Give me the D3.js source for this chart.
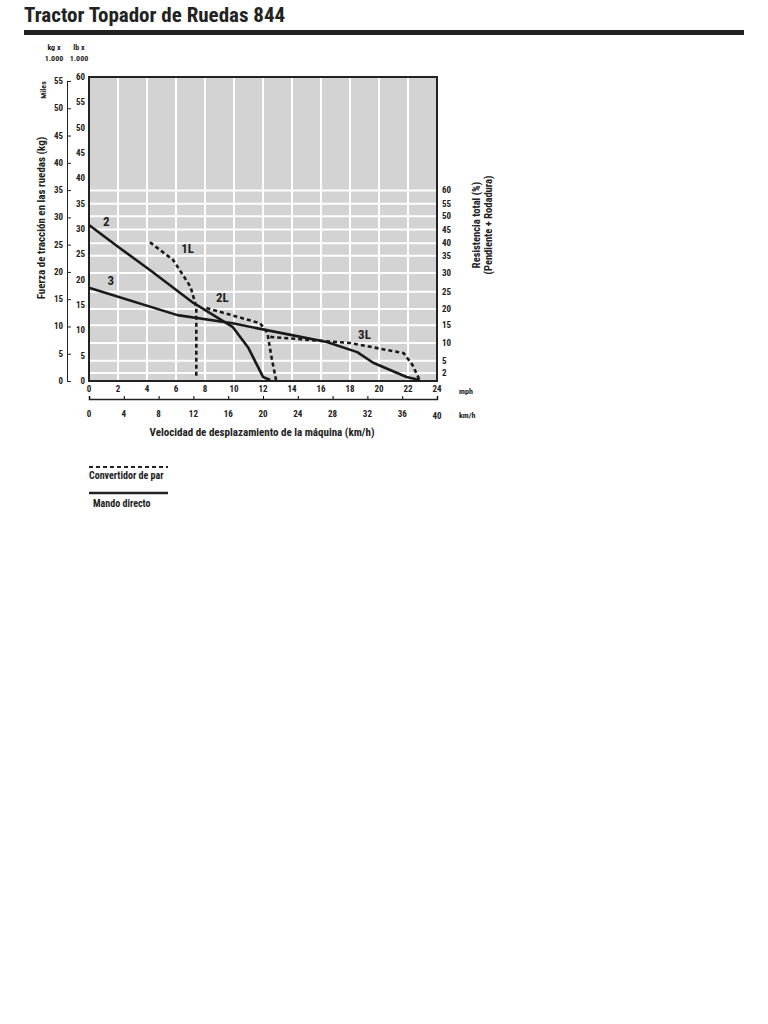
<!DOCTYPE html>
<html><head><meta charset="utf-8">
<script src="https://cdn.jsdelivr.net/npm/d3@7"></script>
<style>body{margin:0;background:#fff}text{font-family:"Liberation Sans Narrow","Arial Narrow","Roboto Condensed","Liberation Sans",sans-serif;font-weight:bold;fill:#222}</style>
</head><body><div id="chart"></div>
<script>
const width = 768
const height = 1024
const title = 'Tractor Topador de Ruedas 844'

const mphTicks = [0, 2, 4, 6, 8, 10, 12, 14, 16, 18, 20, 22, 24]
const kmhTicks = [0, 4, 8, 12, 16, 20, 24, 28, 32, 36, 40]
const lbTicks = [0, 5, 10, 15, 20, 25, 30, 35, 40, 45, 50, 55, 60]
const kgTicks = [0, 5, 10, 15, 20, 25, 30, 35, 40, 45, 50, 55]
// resistance % labels and the lb x 1000 level they sit on
const resLabels = [60, 55, 50, 45, 40, 35, 30, 25, 20, 15, 10, 5, 2]
const resLb = [37.6, 35.0, 32.5, 29.9, 27.2, 24.7, 21.3, 17.6, 14.2, 11.0, 7.5, 4.0, 1.6]

// curves: mph, lb x 1000
const curve2 = [[0, 30.8], [2, 26.5], [4.2, 21.9], [7.2, 15.4], [9.9, 10.7], [11, 6.5], [12.0, 0.8], [12.5, 0.2]]
const curve3 = [[0, 18.4], [6.1, 13.0], [9.9, 11.4], [13.9, 9.1], [16.4, 7.7], [18.5, 5.7], [19.6, 3.6], [21.9, 0.8], [22.8, 0.2]]
const curve1L = [[4.2, 27.4], [5.8, 23.9], [7.0, 18.6], [7.4, 14.6], [7.4, 0.8]]
const curve2L = [[8.1, 14.4], [11.8, 11.4], [12.3, 9.5], [12.6, 4.5], [12.9, 0.2]]
const curve3L = [[12.5, 8.7], [18, 7.5], [21.7, 5.5], [22.3, 3.2], [22.8, 0.2]]
const curveLabels = [['2', 1.2, 30.5], ['1L', 6.8, 25.3], ['3', 1.5, 19.0], ['2L', 9.2, 15.5], ['3L', 19.0, 8.3]]

const svg = d3.select('#chart').append('svg').attr('width', width).attr('height', height)

svg.append('text').attr('x', 24).attr('y', 22).attr('font-size', 21).text(title)
svg.append('rect').attr('x', 24).attr('y', 30).attr('width', 720).attr('height', 5).attr('fill', '#222')

const x = d3.scaleLinear().domain([0, 24]).range([89, 437])
const xk = d3.scaleLinear().domain([0, 40]).range([89, 437])
const y = d3.scaleLinear().domain([0, 60]).range([381, 77])
const yk = d3.scaleLinear().domain([0, 55]).range([381, 81])

svg.append('rect').attr('x', x(0)).attr('y', y(60)).attr('width', x(24) - x(0)).attr('height', y(0) - y(60)).attr('fill', '#d3d3d3')
svg.append('g').selectAll('line').data(mphTicks.slice(1, -1)).join('line')
  .attr('x1', d => x(d)).attr('x2', d => x(d)).attr('y1', y(60)).attr('y2', y(0)).attr('stroke', '#fff').attr('stroke-width', 2)
svg.append('g').selectAll('line').data(resLb).join('line')
  .attr('x1', x(0)).attr('x2', x(24)).attr('y1', d => y(d)).attr('y2', d => y(d)).attr('stroke', '#fff').attr('stroke-width', 2)
svg.append('rect').attr('x', x(0)).attr('y', y(60)).attr('width', x(24) - x(0)).attr('height', y(0) - y(60))
  .attr('fill', 'none').attr('stroke', '#222').attr('stroke-width', 2)

const line = d3.line().x(d => x(d[0])).y(d => y(d[1])).curve(d3.curveMonotoneX)
const lineV = d3.line().x(d => x(d[0])).y(d => y(d[1]))
;[curve2, curve3].forEach(c => svg.append('path').attr('d', lineV(c)).attr('fill', 'none').attr('stroke', '#1a1a1a').attr('stroke-width', 2.6).attr('stroke-linejoin', 'round'))
;[curve1L, curve2L, curve3L].forEach(c => svg.append('path').attr('d', lineV(c)).attr('fill', 'none').attr('stroke', '#1a1a1a').attr('stroke-width', 2.6).attr('stroke-dasharray', '4,3'))
svg.append('g').selectAll('text').data(curveLabels).join('text')
  .attr('x', d => x(d[1])).attr('y', d => y(d[2])).attr('font-size', 13).attr('text-anchor', 'middle').text(d => d[0])

// left lb labels
svg.append('g').selectAll('text').data(lbTicks).join('text')
  .attr('x', 85).attr('y', d => y(d) + 3).attr('font-size', 9).attr('text-anchor', 'end').text(d => d)
// kg axis
const kgAxis = svg.append('g').attr('transform', 'translate(67,0)')
  .call(d3.axisRight(yk).tickValues(kgTicks).tickSize(4).tickFormat(''))
kgAxis.select('.domain').attr('stroke', '#222')
kgAxis.selectAll('line').attr('stroke', '#222')
svg.append('g').selectAll('text').data(kgTicks).join('text')
  .attr('x', 63).attr('y', d => yk(d) + 3).attr('font-size', 9).attr('text-anchor', 'end').text(d => d)
svg.append('text').attr('x', 54).attr('y', 50).attr('font-size', 8).attr('text-anchor', 'middle').text('kg x')
svg.append('text').attr('x', 54).attr('y', 61).attr('font-size', 8).attr('text-anchor', 'middle').text('1.000')
svg.append('text').attr('x', 79).attr('y', 50).attr('font-size', 8).attr('text-anchor', 'middle').text('lb x')
svg.append('text').attr('x', 79).attr('y', 61).attr('font-size', 8).attr('text-anchor', 'middle').text('1.000')
svg.append('text').attr('transform', 'translate(46,90) rotate(-90)').attr('font-size', 8).attr('text-anchor', 'middle').text('Miles')
svg.append('text').attr('transform', 'translate(45,218) rotate(-90)').attr('font-size', 11).attr('text-anchor', 'middle').text('Fuerza de tracción en las ruedas (kg)')

// right resistance labels
svg.append('g').selectAll('text').data(resLabels).join('text')
  .attr('x', 442).attr('y', (d, i) => y(resLb[i]) + 3).attr('font-size', 9).text(d => d)
svg.append('text').attr('transform', 'translate(480,225) rotate(-90)').attr('font-size', 10.5).attr('text-anchor', 'middle').text('Resistencia total (%)')
svg.append('text').attr('transform', 'translate(492,225) rotate(-90)').attr('font-size', 10.5).attr('text-anchor', 'middle').text('(Pendiente + Rodadura)')

// mph labels
svg.append('g').selectAll('text').data(mphTicks).join('text')
  .attr('x', d => x(d)).attr('y', 392).attr('font-size', 9).attr('text-anchor', 'middle').text(d => d)
svg.append('text').attr('x', 459).attr('y', 394).attr('font-size', 8).text('mph')
// km/h axis
const kAxis = svg.append('g').attr('transform', 'translate(0,399)')
  .call(d3.axisTop(xk).tickValues(kmhTicks).tickSize(3).tickFormat(''))
kAxis.select('.domain').attr('stroke', '#222').attr('stroke-width', 1.5)
svg.append('g').selectAll('text').data(kmhTicks).join('text')
  .attr('x', d => xk(d)).attr('y', d => d === 40 ? 419 : 417).attr('font-size', 9).attr('text-anchor', 'middle').text(d => d)
svg.append('text').attr('x', 459).attr('y', 418).attr('font-size', 8).text('km/h')
svg.append('text').attr('x', 262).attr('y', 436).attr('font-size', 11).attr('text-anchor', 'middle').text('Velocidad de desplazamiento de la máquina (km/h)')

// legend
svg.append('line').attr('x1', 89).attr('x2', 168).attr('y1', 467).attr('y2', 467).attr('stroke', '#222').attr('stroke-width', 2).attr('stroke-dasharray', '4,3')
svg.append('text').attr('x', 89).attr('y', 479).attr('font-size', 10).text('Convertidor de par')
svg.append('line').attr('x1', 89).attr('x2', 168).attr('y1', 493).attr('y2', 493).attr('stroke', '#222').attr('stroke-width', 2.5)
svg.append('text').attr('x', 93).attr('y', 507).attr('font-size', 10).text('Mando directo')
</script></body></html>
